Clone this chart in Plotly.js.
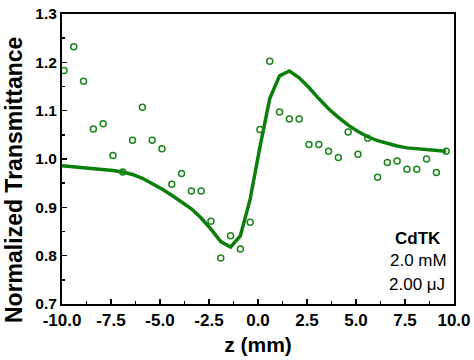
<!DOCTYPE html>
<html>
<head>
<meta charset="utf-8">
<script src="https://cdn.plot.ly/plotly-3.0.1.min.js"></script>
<style>html,body{margin:0;padding:0;background:#fff;}#chart{width:474px;height:360px;}</style>
</head>
<body>
<div id="chart"></div>
<script>
var zData = [-9.9,-9.4,-8.9,-8.4,-7.9,-7.4,-6.9,-6.4,-5.9,-5.4,-4.9,-4.4,-3.9,-3.4,-2.9,-2.4,-1.9,-1.4,-0.9,-0.4,0.1,0.6,1.1,1.6,2.1,2.6,3.1,3.6,4.1,4.6,5.1,5.6,6.1,6.6,7.1,7.6,8.1,8.6,9.1,9.6];
var tData = [1.183,1.232,1.161,1.062,1.073,1.007,0.973,1.039,1.107,1.039,1.021,0.948,0.970,0.934,0.934,0.871,0.795,0.841,0.814,0.869,1.061,1.202,1.097,1.083,1.083,1.030,1.030,1.016,1.003,1.056,1.010,1.043,0.962,0.993,0.996,0.979,0.979,1.000,0.972,1.016];
var zFit = [-10.0,-9.4,-8.9,-8.4,-7.9,-7.4,-6.9,-6.4,-5.9,-5.4,-4.9,-4.4,-3.9,-3.4,-2.9,-2.4,-1.9,-1.4,-0.9,-0.4,0.1,0.6,1.1,1.6,2.1,2.6,3.1,3.6,4.1,4.6,5.1,5.6,6.1,6.6,7.1,7.6,8.1,8.6,9.1,9.6];
var tFit = [0.986,0.984,0.982,0.980,0.978,0.976,0.973,0.968,0.960,0.950,0.938,0.925,0.911,0.897,0.878,0.855,0.829,0.818,0.841,0.917,1.025,1.125,1.172,1.182,1.168,1.148,1.125,1.104,1.086,1.070,1.057,1.046,1.038,1.032,1.027,1.023,1.021,1.019,1.017,1.016];
var xTickVals = [-10,-7.5,-5,-2.5,0,2.5,5,7.5,10];
var xTickText = ['-10.0','-7.5','-5.0','-2.5','0.0','2.5','5.0','7.5','10.0'];
var yTickVals = [0.7,0.8,0.9,1.0,1.1,1.2,1.3];
var yTickText = ['0.7','0.8','0.9','1.0','1.1','1.2','1.3'];
var labelLines = ['<b>CdTK</b>','2.0 mM','2.00 μJ'];

var FONT = 'Arial, "Liberation Sans", sans-serif';
var GREEN = '#0b7f0b';

var traces = [
  {x: zFit, y: tFit, mode: 'lines', line: {color: GREEN, width: 3.5}, hoverinfo: 'skip'},
  {x: zData, y: tData, mode: 'markers', marker: {symbol: 'circle-open', size: 6, color: '#1b851b', line: {width: 1.5, color: '#1b851b'}}}
];

var layout = {
  width: 474, height: 360,
  margin: {l: 62, r: 20, t: 14, b: 56},
  showlegend: false,
  paper_bgcolor: '#fff', plot_bgcolor: '#fff',
  font: {family: FONT, color: '#000'},
  xaxis: {
    range: [-10, 10], tickmode: 'array', tickvals: xTickVals, ticktext: xTickText,
    ticks: 'inside', ticklen: 5, tickwidth: 1.5, tickcolor: '#000',
    minor: {dtick: 1.25, ticks: 'inside', ticklen: 3, tickwidth: 1.5, tickcolor: '#000', showgrid: false},
    showline: true, linewidth: 2, linecolor: '#000', mirror: true,
    showgrid: false, zeroline: false,
    tickfont: {family: FONT, size: 17, color: '#000', weight: 'bold'},
    title: {text: '<b>z (mm)</b>', font: {family: FONT, size: 21, color: '#000'}, standoff: 8}
  },
  yaxis: {
    range: [0.7, 1.3], tickmode: 'array', tickvals: yTickVals, ticktext: yTickText,
    ticks: 'inside', ticklen: 5, tickwidth: 1.5, tickcolor: '#000',
    minor: {dtick: 0.05, ticks: 'inside', ticklen: 3, tickwidth: 1.5, tickcolor: '#000', showgrid: false},
    showline: true, linewidth: 2, linecolor: '#000', mirror: true,
    showgrid: false, zeroline: false,
    tickfont: {family: FONT, size: 15.5, color: '#000', weight: 'bold'}
  },
  annotations: [
    {xref: 'paper', yref: 'paper', x: (14-62)/392, y: (304-180)/290, xanchor: 'center', yanchor: 'middle', textangle: -90,
     text: '<b>Normalized Transmittance</b>', showarrow: false, font: {family: FONT, size: 23, color: '#000'}},
    {xref: 'paper', yref: 'paper', x: (443-62)/392, y: (304-238)/290, xanchor: 'right', yanchor: 'middle',
     text: labelLines[0], showarrow: false, font: {family: FONT, size: 17, color: '#000'}},
    {xref: 'paper', yref: 'paper', x: (449-62)/392, y: (304-260)/290, xanchor: 'right', yanchor: 'middle',
     text: labelLines[1], showarrow: false, font: {family: FONT, size: 17, color: '#000'}},
    {xref: 'paper', yref: 'paper', x: (447-62)/392, y: (304-284)/290, xanchor: 'right', yanchor: 'middle',
     text: labelLines[2], showarrow: false, font: {family: FONT, size: 17, color: '#000'}}
  ]
};

Plotly.newPlot('chart', traces, layout, {displayModeBar: false, staticPlot: true});
</script>
</body>
</html>
